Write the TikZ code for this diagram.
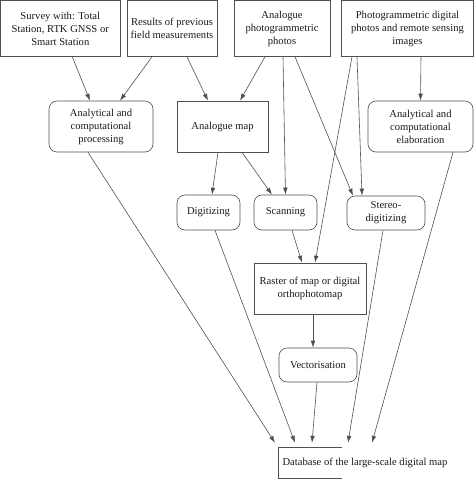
\documentclass[tikz,border=0pt]{standalone}
\usepackage{fontspec}
\setmainfont{Liberation Serif}
\usetikzlibrary{arrows.meta,calc}
\definecolor{linec}{HTML}{505050}
\definecolor{txtc}{HTML}{1A1A1A}
\tikzset{
  box/.style={draw=linec, rectangle, align=center, inner sep=1pt, text=txtc,
    font=\fontsize{10.6}{13}\selectfont, line width=0.6pt},
  rbox/.style={box, rounded corners=8pt},
  arr/.style={draw=linec, line width=0.6pt, -{Latex[length=7pt,width=4.6pt]}},
}
\begin{document}
\begin{tikzpicture}[x=1pt,y=-1pt]
\useasboundingbox (0,0) rectangle (474,480);
% top row
\node[box, minimum width=120pt, minimum height=56pt] (b1) at (60.3,28.5) {Survey with: Total\\Station, RTK GNSS or\\Smart Station};
\node[box, minimum width=90pt, minimum height=56pt] (b2) at (172,28.5) {Results of previous\\field measurements};
\node[box, minimum width=96pt, minimum height=56pt] (b3) at (282,28.5) {Analogue\\photogrammetric\\photos};
\node[box, minimum width=132pt, minimum height=56pt] (b4) at (407.5,28.5) {Photogrammetric digital\\photos and remote sensing\\images};
% second row
\node[rbox, minimum width=104pt, minimum height=51pt] (ap) at (101,126.5) {Analytical and\\computational\\processing};
\node[box, minimum width=91pt, minimum height=51pt] (am) at (222.5,126.5) {Analogue map};
\node[rbox, minimum width=105pt, minimum height=51pt] (el) at (420.5,126.5) {Analytical and\\computational\\elaboration};
% third row
\node[rbox, minimum width=63pt, minimum height=35pt] (dg) at (208.5,212.5) {Digitizing};
\node[rbox, minimum width=63pt, minimum height=35pt] (sc) at (285.5,212.5) {Scanning};
\node[rbox, minimum width=78pt, minimum height=34pt] (st) at (386,213) {Stereo-\\digitizing};
% raster, vectorisation
\node[box, minimum width=112pt, minimum height=51pt] (ra) at (310,288.5) {Raster of map or digital\\orthophotomap};
\node[rbox, minimum width=78pt, minimum height=34pt] (ve) at (318,365) {Vectorisation};
% database
\node[rectangle, inner sep=1pt, text=txtc, font=\fontsize{10.6}{13}\selectfont, minimum width=174pt, minimum height=31pt] (db) at (365,462.5) {Database of the large-scale digital map};
\draw[linec, line width=0.6pt] ($(db.north west)+(64,0)$) -- (db.north west) -- (db.south west) -- ($(db.south west)+(64,0)$);
% edges
\draw[arr] ([xshift=12pt]b1.south) -- ([xshift=-11pt]ap.north);
\draw[arr] ([xshift=-20pt]b2.south) -- ([xshift=19pt]ap.north);
\draw[arr] ([xshift=15pt]b2.south) -- ([xshift=-14.5pt]am.north);
\draw[arr] ([xshift=-17pt]b3.south) -- ([xshift=17.5pt]am.north);
\draw[arr] ([xshift=1pt]b3.south) -- ([xshift=0pt]sc.north);
\draw[arr] ([xshift=13pt]b3.south) -- ([xshift=-33pt]st.north);
\draw[arr] ([xshift=-55.5pt]b4.south) -- ([xshift=5pt]ra.north);
\draw[arr] ([xshift=-50.5pt]b4.south) -- ([xshift=-24pt]st.north);
\draw[arr] ([xshift=13.5pt]b4.south) -- ([xshift=0pt]el.north);
\draw[arr] ([xshift=-4.5pt]am.south) -- ([xshift=3.5pt]dg.north);
\draw[arr] ([xshift=19.5pt]am.south) -- ([xshift=-13.5pt]sc.north);
\draw[arr] ([xshift=6.5pt]sc.south) -- ([xshift=-8pt]ra.north);
\draw[arr] ([xshift=3pt]ra.south) -- ([xshift=-5pt]ve.north);
\draw[arr] ([xshift=-13pt]ap.south) -- ([xshift=-90pt,yshift=4pt]db.north);
\draw[arr] ([xshift=6.5pt]dg.south) -- ([xshift=-70pt,yshift=4pt]db.north);
\draw[arr] ([xshift=-1pt]ve.south) -- ([xshift=-53pt,yshift=4pt]db.north);
\draw[arr] ([xshift=-3pt]st.south) -- ([xshift=-17pt,yshift=4pt]db.north);
\draw[arr] ([xshift=32.5pt]el.south) -- ([xshift=7pt,yshift=4pt]db.north);
\end{tikzpicture}
\end{document}
